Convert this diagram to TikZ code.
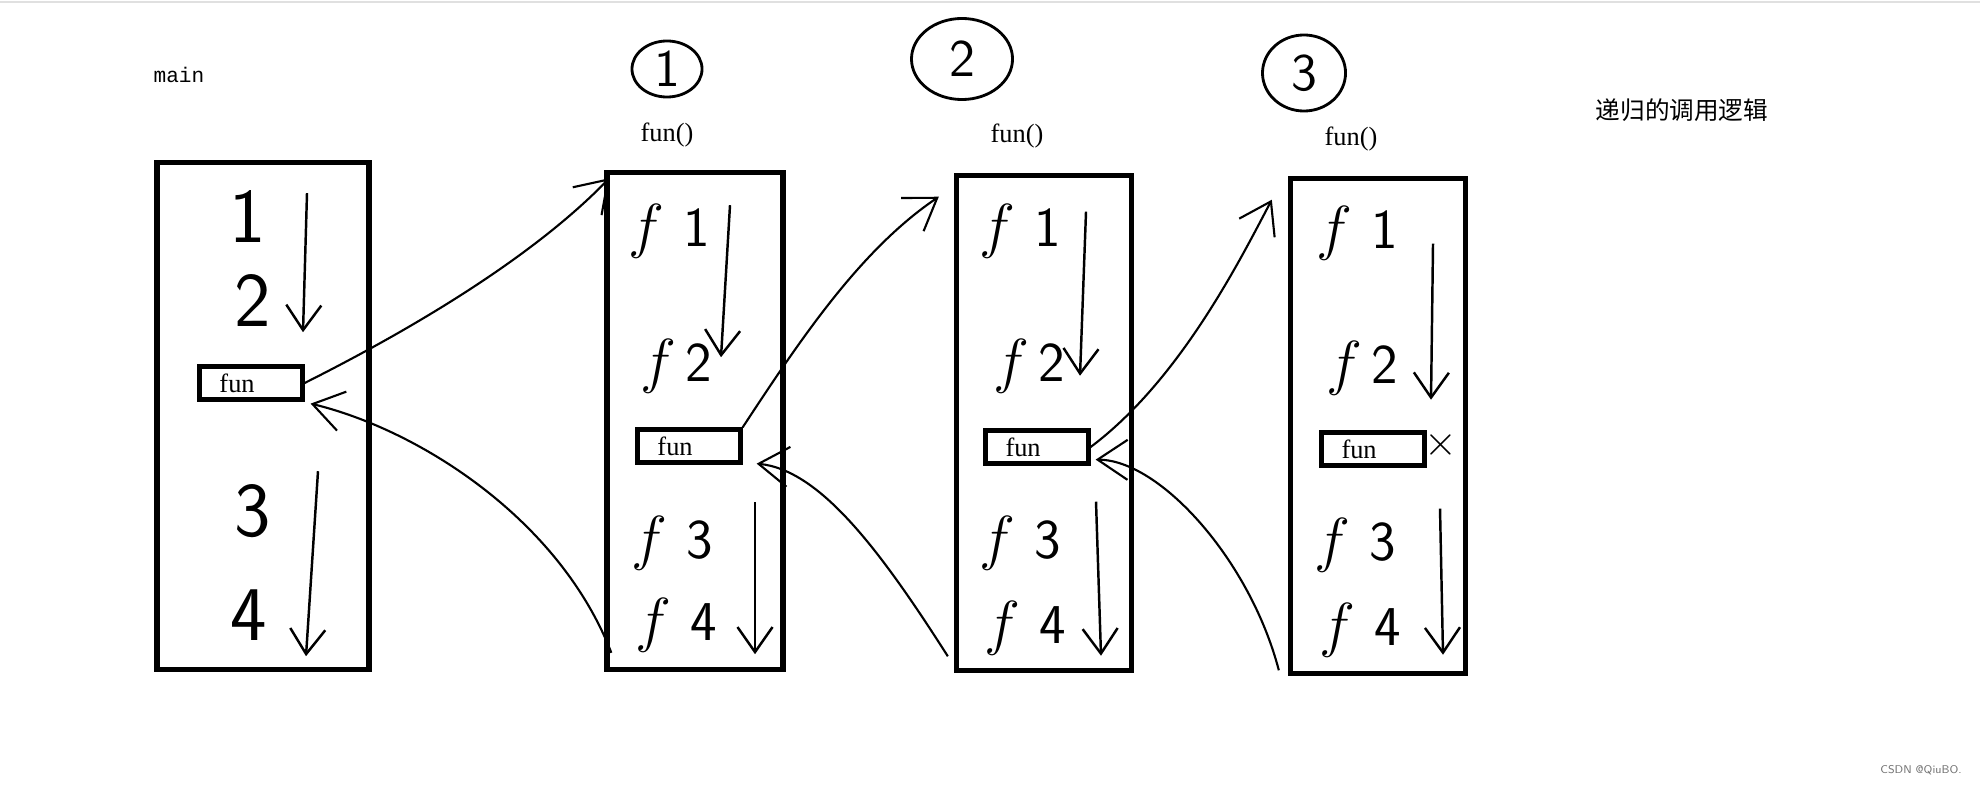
\documentclass[tikz,border=0pt]{standalone}
\usepackage{fontspec}
\setmainfont{Liberation Serif}
\newfontfamily\cjkfont{Noto Sans CJK SC}
\newfontfamily\monofont{Liberation Mono}
\usepackage{tikz}
\usetikzlibrary{arrows.meta,shapes.geometric}

\begin{document}
\begin{tikzpicture}[x=0.01cm, y=-0.01cm,
  frame/.style={draw, line width=1.5pt, minimum width=1.75cm, minimum height=4.95cm},
  callbox/.style={draw, line width=1.2pt, minimum width=1.03cm, minimum height=0.33cm, text width=0.63cm,
    inner xsep=0.2cm, inner ysep=0pt, align=left, font=\fontsize{7.5}{8}\selectfont},
  hand/.style={font=\sffamily\fontsize{22}{24}\selectfont},
  fline/.style={font=\sffamily\fontsize{16}{18}\selectfont},
  num/.style={draw, ellipse, line width=0.8pt, inner sep=0pt, font=\sffamily\fontsize{15}{17}\selectfont},
  lbl/.style={font=\fontsize{7.5}{8}\selectfont},
  flow/.style={line width=0.7pt, -{Straight Barb[length=2.5mm, width=3.5mm]}},
  arr/.style={line width=0.6pt, -{Straight Barb[length=3mm, width=4mm]}}]
\useasboundingbox (0,0) rectangle (1980,785);
\draw[black!12, line width=0.6pt] (0,2) -- (1980,2);

% main
\node[lbl, font=\monofont\fontsize{6}{7}\selectfont] (mainlbl) at (179,75) {main};
\node[frame, minimum width=2.12cm, minimum height=5.06cm] (m) at (263,416) {};
\node[hand] (m1) at (248,217) {1};
\node[hand] (m2) at (253,301) {2};
\node[callbox] (fun0) at (251,383) {fun};
\node[hand] (m3) at (253,511) {3};
\node[hand] (m4) at (249,615) {4};
\draw[flow] ([shift={(44,33)}]m.north) -- ([shift={(40,172)}]m.north);
\draw[flow] ([shift={(55,311)}]m.north) -- ([shift={(43,496)}]m.north);

% first call
\node[num, minimum width=0.70cm, minimum height=0.56cm] (c1) at (667,69) {1};
\node[lbl] (t1) at (667,135) {fun()};
\node[frame, minimum width=1.76cm, minimum height=4.96cm] (b1) at (695,421) {};
\node[fline] (b1f1) at (669,231) {$f$\,\,1};
\node[fline] (b1f2) at (676,366) {$f$\,2};
\node[callbox] (fun1) at (689,446) {fun};
\node[fline] (b1f3) at (672,543) {$f$\,\,3};
\node[fline] (b1f4) at (676,625) {$f$\,\,4};
\draw[flow] ([shift={(35,35)}]b1.north) -- ([shift={(26,187)}]b1.north);
\draw[flow] ([shift={(60,332)}]b1.north) -- ([shift={(60,484)}]b1.north);

% second call
\node[num, minimum width=1.01cm, minimum height=0.81cm] (c2) at (962,59) {2};
\node[lbl] (t2) at (1017,136) {fun()};
\node[frame] (b2) at (1044,423) {};
\node[fline] (b2f1) at (1020,231) {$f$\,\,1};
\node[fline] (b2f2) at (1029,366) {$f$\,2};
\node[callbox] (fun2) at (1037,447) {fun};
\node[fline] (b2f3) at (1020,543) {$f$\,\,3};
\node[fline] (b2f4) at (1025,628) {$f$\,\,4};
\draw[flow] ([shift={(42,39)}]b2.north) -- ([shift={(36,203)}]b2.north);
\draw[flow] ([shift={(52,329)}]b2.north) -- ([shift={(57,483)}]b2.north);

% third call
\node[num, minimum width=0.83cm, minimum height=0.76cm] (c3) at (1304,73) {3};
\node[lbl] (t3) at (1351,139) {fun()};
\node[frame] (b3) at (1378,426) {};
\node[fline] (b3f1) at (1357,233) {$f$\,\,1};
\node[fline] (b3f2) at (1362,368) {$f$\,2};
\node[callbox] (fun3) at (1373,449) {fun};
\node[fline] (b3f3) at (1355,545) {$f$\,\,3};
\node[fline] (b3f4) at (1360,630) {$f$\,\,4};
\node[font=\fontsize{12}{12}\selectfont, inner sep=0pt] (stop) at (1441,445) {$\times$};
\draw[flow] ([shift={(55,68)}]b3.north) -- ([shift={(53,224)}]b3.north);
\draw[flow] ([shift={(62,333)}]b3.north) -- ([shift={(65,479)}]b3.north);

\node[font=\cjkfont\fontsize{7}{8}\selectfont] (title) at (1682,110) {递归的调用逻辑};
\node[font=\sffamily\fontsize{3.2}{4}\selectfont, text=black!55] (mark) at (1921,770) {CSDN @QiuBO.};

% calls
\draw[arr] (fun0.east) .. controls (430,320) and (540,250) .. ([shift={(5,8)}]b1.north west);
\draw[arr] (fun1.north east) .. controls (800,340) and (860,250) .. ([shift={(-15,24)}]b2.north west);
\draw[arr] (fun2.east) .. controls (1180,380) and (1240,260) .. ([shift={(-16,24)}]b3.north west);
% returns
\draw[arr] ([shift={(7,-19)}]b1.south west) .. controls (560,520) and (420,430) .. ([shift={(6,2)}]fun0.south east);
\draw[arr] ([shift={(-6,-17)}]b2.south west) .. controls (880,550) and (820,470) .. ([shift={(14,-1)}]fun1.south east);
\draw[arr] ([shift={(-9,-6)}]b3.south west) .. controls (1250,560) and (1160,460) .. ([shift={(5,-6)}]fun2.south east);
\end{tikzpicture}
\end{document}
